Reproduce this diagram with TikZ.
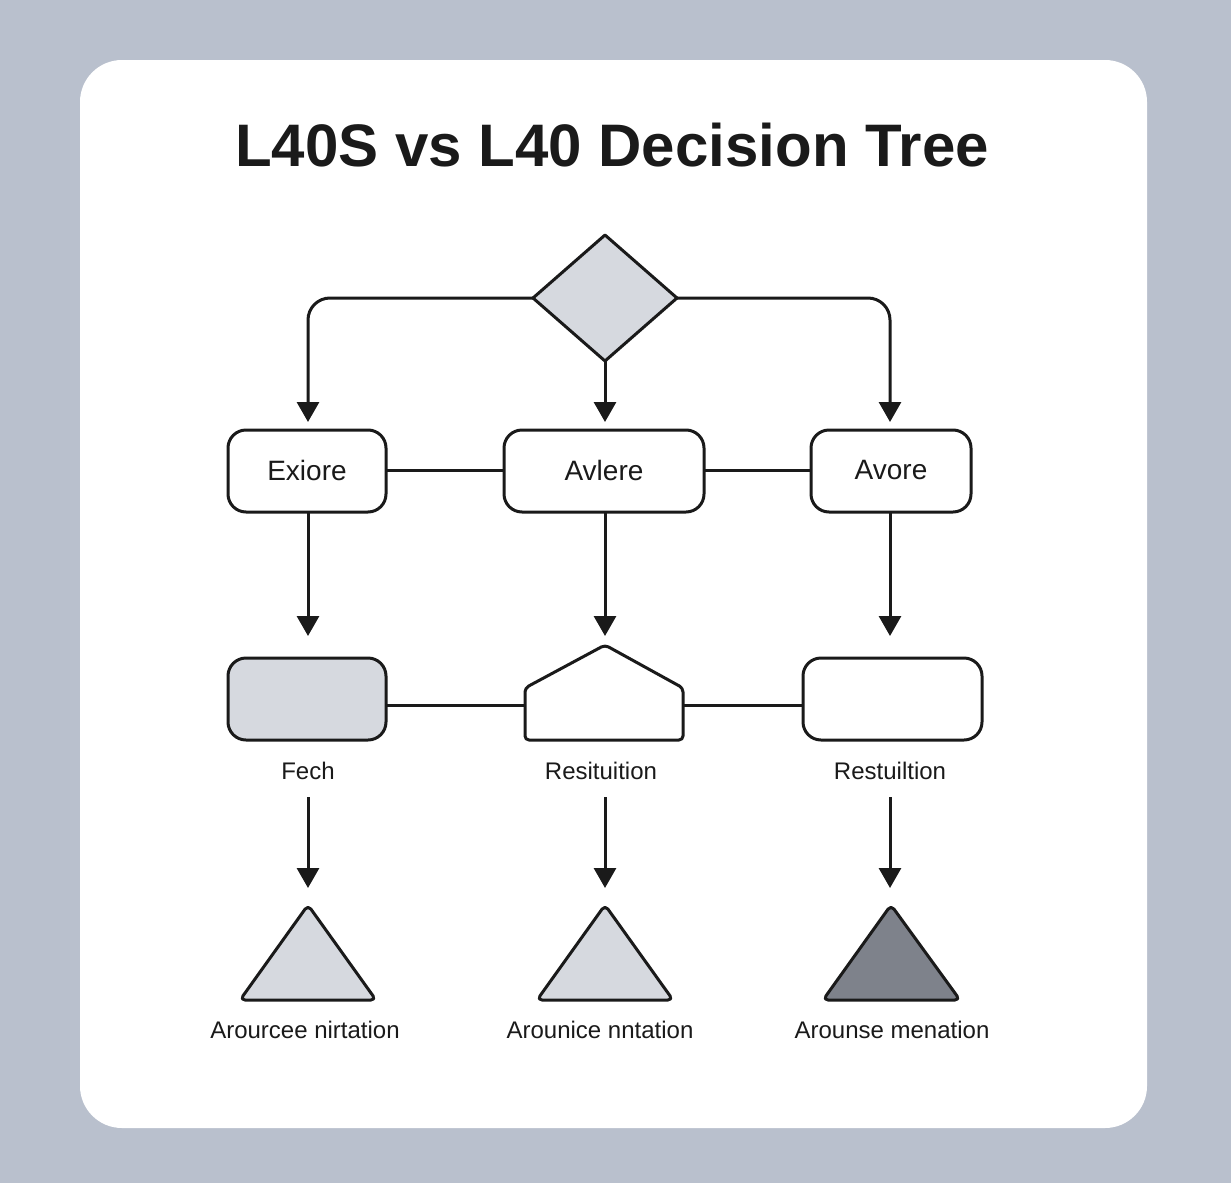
\documentclass[tikz,border=0pt]{standalone}
\usepackage{fontspec}
\setmainfont{Liberation Sans}
\usetikzlibrary{arrows.meta,shapes.geometric}
\definecolor{bg}{HTML}{B9C0CD}
\definecolor{lg}{HTML}{D6D9DF}
\definecolor{dg}{HTML}{7E828B}
\definecolor{ink}{HTML}{1A1A1A}
\begin{document}
\begin{tikzpicture}[x=1pt,y=-1pt,
  ln/.style={draw=ink,line width=3pt},
  arr/.style={ln,-{Triangle[width=22pt,length=20pt]}},
  box/.style={draw=ink,line width=3pt,rounded corners=18pt,fill=white},
  lab/.style={font=\fontsize{24}{28}\selectfont,text=ink},
  btxt/.style={font=\fontsize{28}{32}\selectfont,text=ink}]
\useasboundingbox (0,0) rectangle (1231,1183);
\fill[bg] (0,0) rectangle (1231,1183);
\fill[white,rounded corners=42pt] (80,60) rectangle (1147,1128);
\node[font=\bfseries\fontsize{60}{68}\selectfont,text=ink] (title) at (612,145) {L40S vs L40 Decision Tree};
% diamond
\draw[ln,fill=lg,line join=round] (605,235) -- (677,298) -- (605,361) -- (533,298) -- cycle;
\coordinate (dl) at (533,298); \coordinate (dr) at (677,298); \coordinate (db) at (605,361);
% row1
\draw[box] (228,430) rectangle (386,512); \node[btxt] (b1) at (307,470) {Exiore};
\draw[box] (504,430) rectangle (704,512); \node[btxt] (b2) at (604,470) {Avlere};
\draw[box] (811,430) rectangle (971,512); \node[btxt] (b3) at (891,470) {Avore};
\draw[ln] (386,470) -- (504,470); \draw[ln] (704,470) -- (811,470);
\draw[arr,rounded corners=22pt] (dl) -- (308,298) -- (308,422);
\draw[arr,rounded corners=22pt] (dr) -- (890,298) -- (890,422);
\draw[arr] (db) -- (605,422);
% row1 to row2
\draw[arr] (308,512) -- (308,636);
\draw[arr] (605,512) -- (605,636);
\draw[arr] (890,512) -- (890,636);
% row2
\draw[box,fill=lg] (228,658) rectangle (386,740);
\draw[ln,fill=white,line join=round,rounded corners=4pt] (525,740) -- (525,688) -- (605,645) -- (683,688) -- (683,740) -- cycle;
\draw[box] (803,658) rectangle (982,740);
\draw[ln] (386,705) -- (525,705); \draw[ln] (683,705) -- (803,705);
\node[lab] (l1) at (308,771) {Fech};
\node[lab] (l2) at (601,771) {Resituition};
\node[lab] (l3) at (890,771) {Restuiltion};
\draw[arr] (308,797) -- (308,888);
\draw[arr] (605,797) -- (605,888);
\draw[arr] (890,797) -- (890,888);
% triangles
\draw[ln,fill=lg,line join=round,rounded corners=5pt] (308,905) -- (376,1000) -- (240,1000) -- cycle;
\draw[ln,fill=lg,line join=round,rounded corners=5pt] (605,905) -- (673,1000) -- (537,1000) -- cycle;
\draw[ln,fill=dg,line join=round,rounded corners=5pt] (891,905) -- (960,1000) -- (823,1000) -- cycle;
\node[lab] (t1) at (305,1030) {Arourcee nirtation};
\node[lab] (t2) at (600,1030) {Arounice nntation};
\node[lab] (t3) at (892,1030) {Arounse menation};
\end{tikzpicture}
\end{document}
